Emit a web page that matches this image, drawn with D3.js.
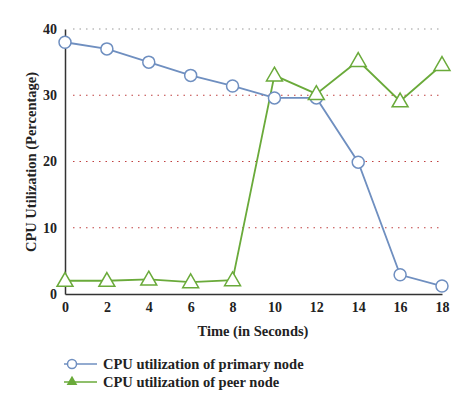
<!DOCTYPE html>
<html><head><meta charset="utf-8">
<script src="https://cdn.jsdelivr.net/npm/d3@7"></script>
<style>body{margin:0;background:#fff}text{font-family:"Liberation Serif",serif;font-weight:bold}</style>
</head><body><svg id="c" width="474" height="413"></svg>
<script>
const times=[0,2,4,6,8,10,12,14,16,18];
const primary=[38,37,35,33,31.4,29.6,29.6,19.9,2.9,1.2];
const peer=[2,2,2.2,1.8,2.1,33,30.2,35.2,29.1,34.6];
const yTicks=[0,10,20,30,40];
const names=["CPU utilization of primary node","CPU utilization of peer node"];
const svg=d3.select("#c");
const x=d3.scaleLinear().domain([0,18]).range([65,442]);
const y=d3.scaleLinear().domain([0,40]).range([294,29]);
const gridColor=[null,"#c04040","#c04040","#c04040","#999"];
yTicks.slice(1).forEach((t,i)=>svg.append("line").attr("x1",x(0)+8).attr("x2",x(18)).attr("y1",y(t)).attr("y2",y(t))
 .attr("stroke",gridColor[i+1]).attr("stroke-width",1.2).attr("stroke-dasharray","1.5,5"));
svg.append("g").attr("transform","translate(0,294)").call(d3.axisBottom(x).tickValues(times).tickSize(0).tickPadding(8))
 .call(g=>{g.select(".domain").attr("stroke","#333").attr("stroke-width",1.5);g.selectAll("text").attr("font-size",14).attr("fill","#222");});
svg.append("g").attr("transform","translate(65,0)").call(d3.axisLeft(y).tickValues(yTicks).tickSize(0).tickPadding(8))
 .call(g=>{g.select(".domain").attr("stroke","#333").attr("stroke-width",1.5);g.selectAll("text").attr("font-size",14).attr("fill","#222");});
svg.append("text").attr("x",253).attr("y",336).attr("text-anchor","middle").attr("font-size",14.5).attr("fill","#222").text("Time (in Seconds)");
svg.append("text").attr("transform","translate(36,162) rotate(-90)").attr("text-anchor","middle").attr("font-size",14.5).attr("fill","#222").text("CPU Utilization (Percentage)");
const blue="#6f8fc0",green="#6aaa3a";
const line=d3.line().x((d,i)=>x(times[i])).y(d=>y(d));
svg.append("path").datum(primary).attr("d",line).attr("fill","none").attr("stroke",blue).attr("stroke-width",1.8);
svg.append("path").datum(peer).attr("d",line).attr("fill","none").attr("stroke",green).attr("stroke-width",1.8);
const tri=d3.symbol().type(d3.symbolTriangle).size(110);
svg.selectAll(".p").data(primary).join("circle").attr("cx",(d,i)=>x(times[i])).attr("cy",d=>y(d)).attr("r",6).attr("fill","#fff").attr("stroke",blue).attr("stroke-width",1.5);
svg.selectAll(".g").data(peer).join("path").attr("d",tri).attr("transform",(d,i)=>`translate(${x(times[i])},${y(d)+1})`).attr("fill","#fff").attr("stroke",green).attr("stroke-width",1.5);
[[blue,0],[green,1]].forEach(([c,i])=>{
 const ly=364+i*18;
 svg.append("line").attr("x1",64).attr("x2",97).attr("y1",ly).attr("y2",ly).attr("stroke",c).attr("stroke-width",1.5);
 if(i==0) svg.append("circle").attr("cx",72).attr("cy",ly).attr("r",4.5).attr("fill","#fff").attr("stroke",c).attr("stroke-width",1.5);
 else svg.append("path").attr("d",d3.symbol().type(d3.symbolTriangle).size(50)).attr("transform",`translate(72,${ly})`).attr("fill",c);
 svg.append("text").attr("x",103).attr("y",ly+5).attr("font-size",14.5).attr("fill","#222").text(names[i]);
});
</script></body></html>
